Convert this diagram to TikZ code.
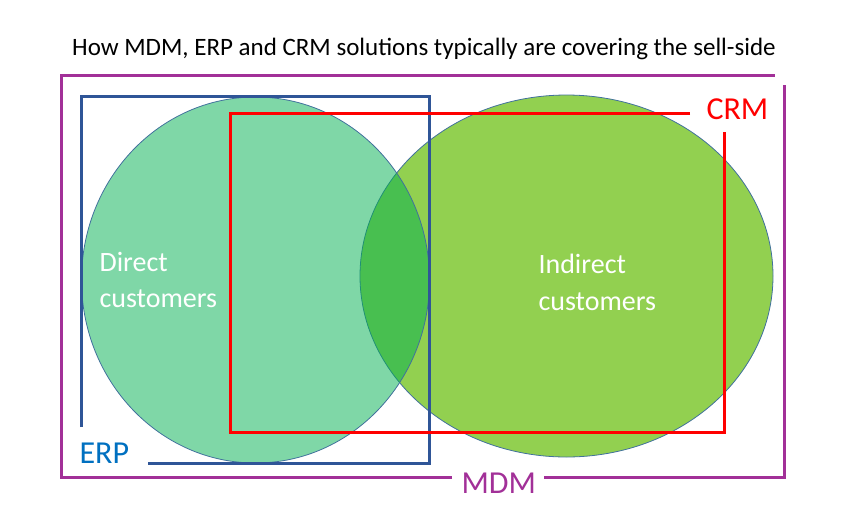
\documentclass[tikz,border=0pt]{standalone}
\usepackage{fontspec}
\setmainfont{Carlito}
\begin{document}
\begin{tikzpicture}[x=1pt, y=-1pt, line join=miter]
  \definecolor{mdmpurple}{RGB}{162,48,152}
  \definecolor{erpnavy}{RGB}{47,85,151}
  \definecolor{erpblue}{RGB}{0,112,192}
  \definecolor{crmred}{RGB}{255,0,0}
  \definecolor{directgreen}{RGB}{0,176,80}
  \definecolor{indirectgreen}{RGB}{146,208,80}
  \definecolor{rimblue}{RGB}{65,113,156}
  \useasboundingbox (0,0) rectangle (849,523);
  \node[anchor=base, font=\fontsize{25}{30}\selectfont] (title) at (424,55) {How MDM, ERP and CRM solutions typically are covering the sell-side};
  % MDM frame, open at the label
  \draw[mdmpurple, line width=3pt] (452,477) -- (61,477) -- (61,75) -- (775,75);
  \draw[mdmpurple, line width=3pt] (784,85) -- (784,477) -- (544,477);
  \node[anchor=base west, text=mdmpurple, font=\fontsize{32}{40}\selectfont] (mdm) at (458,493) {MDM};
  % the two groups of customers
  \draw[rimblue, fill=indirectgreen, line width=0.8pt] (566.5,276) ellipse [x radius=206.5, y radius=181];
  \draw[rimblue, fill=directgreen, fill opacity=0.5, line width=0.8pt] (255.5,280) ellipse [x radius=174, y radius=183];
  \node[anchor=base west, align=left, text=white, font=\fontsize{28}{36}\selectfont] (direct) at (96,307) {Direct\\customers};
  \node[anchor=base west, align=left, text=white, font=\fontsize{28}{37}\selectfont] (indirect) at (535,310) {Indirect\\customers};
  % ERP frame
  \draw[erpnavy, line width=3pt] (81,427) -- (81,96) -- (429,96) -- (429,463) -- (148,463);
  \node[anchor=base west, text=erpblue, font=\fontsize{32}{40}\selectfont] (erp) at (76,463) {ERP};
  % CRM frame
  \draw[crmred, line width=3pt] (690,113) -- (230,113) -- (230,432) -- (724,432) -- (724,132);
  \node[anchor=base west, text=crmred, font=\fontsize{32}{40}\selectfont] (crm) at (703,119) {CRM};
\end{tikzpicture}
\end{document}
